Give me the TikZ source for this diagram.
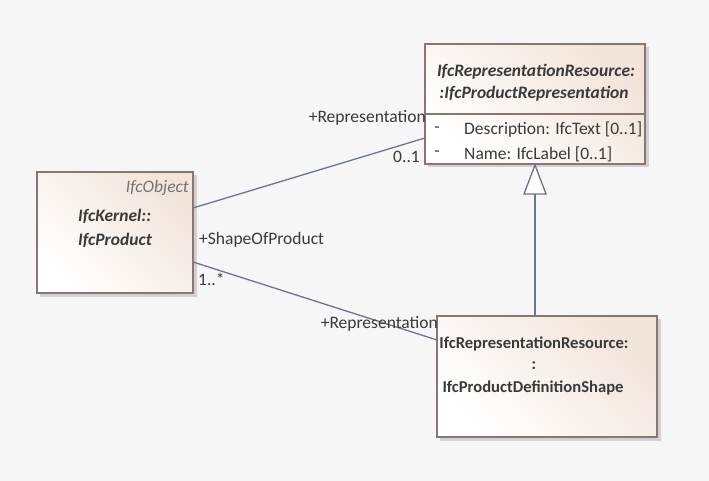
\documentclass[tikz,border=0pt]{standalone}
\usepackage{fontspec}
\setmainfont{Carlito}
\usetikzlibrary{arrows.meta,shadings}
\definecolor{bg}{HTML}{F6F6F6}
\definecolor{bord}{HTML}{8E7373}
\definecolor{lnc}{HTML}{6B7590}
\definecolor{txt}{HTML}{3A3A3A}
\definecolor{fillb}{HTML}{F2E4D9}
\tikzset{
 cls/.style={draw=bord,line width=1.3pt,top color=white,bottom color=fillb,shading angle=135},
 shad/.style={fill=black!18,draw=none},
 conn/.style={draw=lnc,line width=1.3pt},
 lbl/.style={text=txt,font=\fontsize{17.5}{20}\selectfont,inner sep=1pt},
 ttl/.style={lbl,font=\fontsize{17.5}{20}\selectfont\bfseries},
 bttl/.style={lbl,font=\fontsize{16.6}{20}\selectfont\bfseries},
}
\begin{document}
\begin{tikzpicture}[x=1pt,y=-1pt]
\fill[bg] (0,0) rectangle (709,481);
\useasboundingbox (0,0) rectangle (709,481);
% shadows
\fill[shad] (428,47) rectangle (649,167);
\fill[shad] (40,175) rectangle (197,297);
\fill[shad] (440,319) rectangle (661,441);
% boxes
\path[cls] (425,44) rectangle (645,164);
\draw[bord,line width=1.3pt] (425,114) -- (645,114);
\path[cls] (37,172) rectangle (193,293);
\path[cls] (437,316) rectangle (657,437);
\coordinate (top) at (535,165);
\coordinate (topE) at (425,138);
\coordinate (prodA) at (193,208);
\coordinate (prodB) at (193,262);
\coordinate (botW) at (437,340);
\coordinate (botN) at (535,316);
\coordinate (triB) at (535,194);
% text top
\node[ttl,font=\fontsize{17.5}{20}\selectfont\bfseries\itshape] (t1) at (536,72) {IfcRepresentationResource:};
\node[ttl,font=\fontsize{17.5}{20}\selectfont\bfseries\itshape] (t2) at (534,94) {:IfcProductRepresentation};
\node[lbl] (d0) at (437,130) {-};
\node[lbl,anchor=west] (d1) at (463,130) {Description: IfcText [0..1]};
\node[lbl] (n0) at (437,154) {-};
\node[lbl,anchor=west] (n1) at (463,154) {Name: IfcLabel [0..1]};
% left
\node[lbl,anchor=east,font=\fontsize{17.5}{20}\selectfont\itshape,text=black!55] (o) at (190,188) {IfcObject};
\node[ttl,anchor=west,font=\fontsize{17.5}{20}\selectfont\bfseries\itshape] (k1) at (77,216) {IfcKernel::};
\node[ttl,anchor=west,font=\fontsize{17.5}{20}\selectfont\bfseries\itshape] (k2) at (77,240) {IfcProduct};
% bottom
\node[bttl] (b1) at (534,344) {IfcRepresentationResource:};
\node[bttl] (b2) at (534,366) {:};
\node[bttl] (b3) at (533,388) {IfcProductDefinitionShape};
% connectors
\draw[conn] (prodA) -- (topE);
\draw[conn] (prodB) -- (botW);
\draw[conn] (botN) -- (triB);
\draw[conn,fill=white!92!fillb] (top) -- (524,194) -- (546,194) -- cycle;
% labels
\node[lbl,anchor=east] (r1) at (427,118) {+Representation};
\node[lbl,anchor=east] (m1) at (421,157) {0..1};
\node[lbl,anchor=west] (s) at (198,240) {+ShapeOfProduct};
\node[lbl,anchor=west] (m2) at (197,279) {1..*};
\node[lbl,anchor=east] (r2) at (439,324) {+Representation};
\end{tikzpicture}
\end{document}
